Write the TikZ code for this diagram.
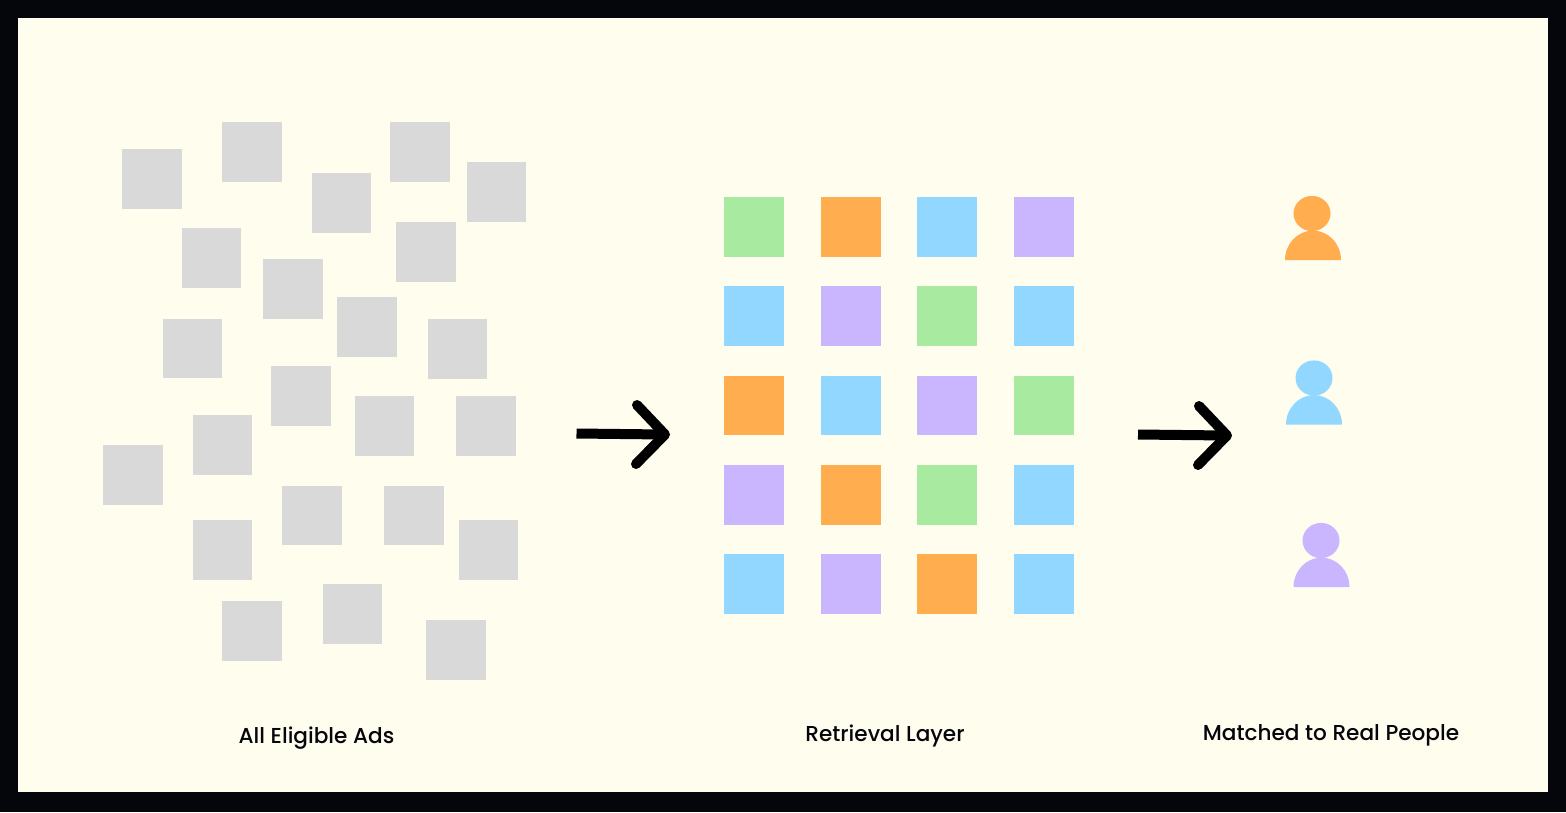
\documentclass[tikz,border=0pt]{standalone}
\usepackage{fontspec}
\setmainfont{Poppins Medium}
\definecolor{frame}{HTML}{05050C}
\definecolor{paper}{HTML}{FFFDEE}
\definecolor{adgray}{HTML}{D9D9D9}
\definecolor{cgreen}{HTML}{A8EAA0}
\definecolor{corange}{HTML}{FFAD4F}
\definecolor{cblue}{HTML}{91D7FF}
\definecolor{cpurple}{HTML}{C9B6FF}
\tikzset{
  sq/.style={rectangle,minimum size=59.6pt,inner sep=0pt,outer sep=0pt,anchor=north west,fill=#1},
  arrowline/.style={draw=black,line width=10pt,line cap=round,line join=round},
  lbl/.style={inner sep=0pt,font=\fontsize{21.6pt}{26pt}\selectfont,text=frame},
}
\newcommand{\person}[4]{% head cx, head cy, body left, colour
  \fill[#4] (#1,#2) ellipse [x radius=18.5pt,y radius=17.6pt];
  \fill[#4] (#3,#2+46.6) arc [start angle=180,end angle=0,x radius=28pt,y radius=29.5pt] -- cycle;
}
\begin{document}
\begin{tikzpicture}[x=1pt,y=-1pt]
\useasboundingbox (0,0) rectangle (1566,812);
\fill[frame] (0,0) rectangle (1566,812);
\fill[paper] (18,18) rectangle (1548,792);
\foreach \x/\y [count=\i] in {122/149,222/122,311.5/173,390/122,466.5/162,181.5/228,263/259,396/222,162.5/318.5,337/297,427.5/319,271/366,192.5/415,354.5/396,456/396,103/445,192.5/520,282/485.5,384/485.5,458.5/520,222/601,322.5/584,426/620}
  \node[sq=adgray] (g\i) at (\x,\y) {};
\foreach \x/\y/\c [count=\i] in {
  724.2/197/cgreen,821/197/corange,917.4/197/cblue,1014/197/cpurple,
  724.2/286.4/cblue,821/286.4/cpurple,917.4/286.4/cgreen,1014/286.4/cblue,
  724.2/375.8/corange,821/375.8/cblue,917.4/375.8/cpurple,1014/375.8/cgreen,
  724.2/465/cpurple,821/465/corange,917.4/465/cgreen,1014/465/cblue,
  724.2/554.4/cblue,821/554.4/cpurple,917.4/554.4/corange,1014/554.4/cblue}
  \node[sq=\c] (c\i) at (\x,\y) {};
\coordinate (a1e) at (665,434.5);
\coordinate (a1u) at (637,405);
\coordinate (a1d) at (636,464);
\coordinate (a2e) at (1227,435.5);
\coordinate (a2u) at (1199,406);
\coordinate (a2d) at (1198,465);
\draw[arrowline,line cap=butt] (576.5,433.5) -- (a1e);
\draw[arrowline] (a1u) -- (a1e) -- (a1d);
\draw[arrowline,line cap=butt] (1138,434.5) -- (a2e);
\draw[arrowline] (a2u) -- (a2e) -- (a2d);
\person{1312}{213.5}{1285}{corange}
\person{1314}{378}{1286}{cblue}
\person{1321}{540.5}{1293.5}{cpurple}
\node[lbl] (t1) at (316.5,738.5) {All Eligible Ads};
\node[lbl] (t2) at (885,735.5) {Retrieval Layer};
\node[lbl] (t3) at (1331,735.5) {Matched to Real People};
\end{tikzpicture}
\end{document}
